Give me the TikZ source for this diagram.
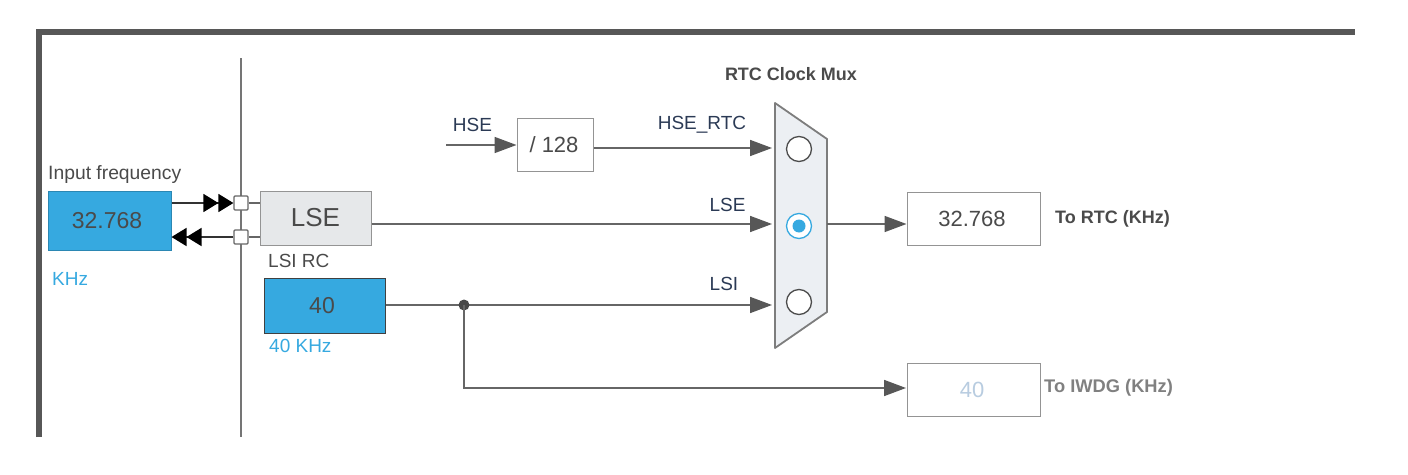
\documentclass[tikz,border=0pt]{standalone}
\usepackage{fontspec}
\setmainfont{Liberation Sans}
\usetikzlibrary{arrows.meta}
\definecolor{stblue}{HTML}{36A9E0}
\definecolor{stline}{HTML}{666666}
\definecolor{sttext}{HTML}{4A4A4A}
\definecolor{stnavy}{HTML}{2B3A55}
\definecolor{stpale}{HTML}{B8CCE0}
\definecolor{stmux}{HTML}{ECEFF3}
\definecolor{stlse}{HTML}{E6E8EA}
\tikzset{
  wire/.style={draw=stline,line width=1.7pt},
  arrowwire/.style={wire,-{Triangle[length=22pt,width=16pt,color=stline!85!black]}},
  dblwire/.style={draw=black!80,line width=1.5pt,-{Triangle[length=15pt,width=18pt,color=black]Triangle[length=15pt,width=18pt,color=black]}},
  valbox/.style={draw=black!42,line width=1pt,fill=white,text=sttext,font=\fontsize{22}{24}\selectfont},
  bluebox/.style={valbox,fill=stblue,font=\fontsize{23}{25}\selectfont},
  lbl/.style={text=sttext,font=\fontsize{19}{22}\selectfont,inner sep=0pt},
  sig/.style={text=stnavy,font=\fontsize{19}{22}\selectfont,inner sep=0pt},
  bluelbl/.style={lbl,text=stblue},
  pin/.style={draw=stline,line width=1.2pt,fill=white,minimum size=14pt,inner sep=0pt,rounded corners=1pt},
  muxpin/.style={circle,draw=black!70,line width=1.3pt,fill=white,minimum size=25pt,inner sep=0pt}
}
\begin{document}
\begin{tikzpicture}[x=1pt,y=-1pt]
  \useasboundingbox (0,0) rectangle (1408,474);
  % the frame
  \draw[stline!85!black,line width=6pt] (38.5,437) -- (38.5,32) -- (1355,32);
  \draw[stline!90,line width=1.6pt] (241,58) -- (241,437);

  %% input side
  \node[bluebox,draw=stblue!80!black,minimum width=123pt,minimum height=59pt] (inbox) at (109.5,220.5) {\kern-5pt 32.768};
  \node[lbl,anchor=west] (intitle) at (48,175) {\fontsize{19.3}{22}\selectfont Input frequency};
  \node[bluelbl,anchor=west] (inunit) at (52,279) {KHz};
  \node[pin] (pintop) at (241,203) {};
  \node[pin] (pinbot) at (241,237) {};
  \node[valbox,fill=stlse,font=\fontsize{26}{28}\selectfont,minimum width=111pt,minimum height=54pt] (lsebox) at (315.5,218) {LSE};
  \node[lbl,anchor=west] (lsititle) at (268,261) {LSI RC};
  \node[bluebox,draw=black!75,minimum width=121pt,minimum height=55pt] (lsibox) at (324.5,305.5) {\kern-5pt 40};
  \node[bluelbl,anchor=west] (lsiunit) at (269,346) {40 KHz};
  \draw[dblwire] (inbox.east |- pintop) -- (pintop.west);
  \draw[dblwire] (pinbot.west) -- (inbox.east |- pinbot);
  \draw[wire] (pintop.east) -- (lsebox.west |- pintop);
  \draw[wire] (pinbot.east) -- (lsebox.west |- pinbot);

  %% the mux
  \draw[fill=stmux,draw=stline!85,line width=1.8pt,line join=round] (775,103) -- (827,139) -- (827,312) -- (775,348) -- cycle;
  \node[muxpin] (muxa) at (799,149) {};
  \node[muxpin,draw=stblue] (muxb) at (799,226) {};
  \node[muxpin] (muxc) at (799,302) {};
  \node[circle,fill=stblue,minimum size=13pt,inner sep=0pt] (muxdot) at (muxb) {};
  \node[text=sttext,font=\fontsize{18}{20}\selectfont\bfseries,inner sep=0pt] (muxtitle) at (791,74) {RTC Clock Mux};
  \coordinate (muxina) at (772,148);
  \coordinate (muxinb) at (772,224);
  \coordinate (muxinc) at (772,305);
  \coordinate (muxout) at (827,224);

  %% the HSE branch
  \coordinate (hsein) at (446,145);
  \node[valbox,minimum width=76pt,minimum height=53pt] (divbox) at (555,144.5) {\kern-2pt/ 128};
  \node[sig] (hselbl) at (472.5,125) {HSE};
  \node[sig] (hsertclbl) at (702,125) {HSE\_RTC};
  \node[sig] (lselbl) at (727.5,205) {LSE};
  \node[sig] (lsilbl) at (724,284) {LSI};
  \draw[arrowwire] (hsein) -- (divbox.west |- hsein);
  \draw[arrowwire] (divbox.east |- muxina) -- (muxina);
  \draw[arrowwire] (lsebox.east |- muxinb) -- (muxinb);
  \draw[arrowwire] (lsibox.east |- muxinc) -- (muxinc);

  %% the outputs
  \node[valbox,minimum width=133pt,minimum height=53pt] (rtcbox) at (973.5,219) {\kern-3pt 32.768};
  \node[valbox,text=stpale,minimum width=133pt,minimum height=53pt] (iwdgbox) at (973.5,389.5) {\kern-3pt 40};
  \node[text=sttext,font=\fontsize{18}{20}\selectfont\bfseries,inner sep=0pt,anchor=west] (rtclbl) at (1055,219) {To RTC (KHz)};
  \node[text=black!50,font=\fontsize{18.3}{20}\selectfont\bfseries,inner sep=0pt,anchor=west] (iwdglbl) at (1044,388) {To IWDG (KHz)};
  \draw[arrowwire] (muxout) -- (rtcbox.west |- muxout);
  \fill[stline!70!black] (464,305) circle (5.5pt) coordinate (tap);
  \coordinate (iwdgin) at (906,388);
  \draw[arrowwire] (tap) -- (tap |- iwdgin) -- (iwdgin);
\end{tikzpicture}
\end{document}
